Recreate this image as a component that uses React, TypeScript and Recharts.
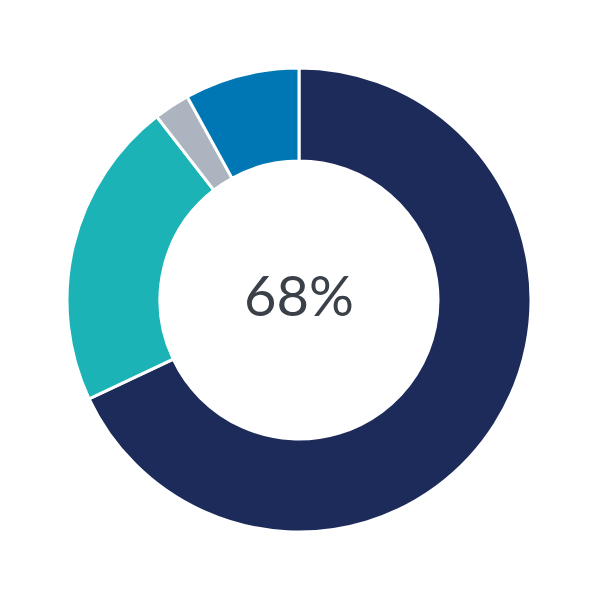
import { PieChart, Pie, Cell } from 'recharts';

const segments = ['Navy', 'Teal', 'Gray', 'Blue'];
const shares = [68, 21.5, 2.5, 8];
const colors = ['#1c2b5a', '#1cb3b6', '#abb4bf', '#0077b5'];
const centerLabel = '68%';

const data = segments.map((name, i) => ({ name, value: shares[i] }));

/* donut with the headline share written in the hole
   (pie cx/cy are measured from the 5px chart margin) */
const App = () => {
  return (
    <div style={{ position: 'absolute', left: 0, top: 0, width: 600, height: 600, background: '#fff' }}>
      <PieChart width={600} height={600}>
        <Pie
          data={data}
          dataKey="value"
          nameKey="name"
          cx={294}
          cy={295}
          innerRadius={139}
          outerRadius={232}
          startAngle={90}
          endAngle={-270}
          stroke="#fff"
          strokeWidth={3}
          isAnimationActive={false}
        >
          {data.map((d, i) => (
            <Cell key={d.name} fill={colors[i]} />
          ))}
        </Pie>
        <text
          x={299}
          y={294}
          textAnchor="middle"
          dominantBaseline="central"
          fontFamily="Lato, 'Open Sans', sans-serif"
          fontWeight={400}
          fontSize={56}
          fill="#3a4149"
        >
          {centerLabel}
        </text>
      </PieChart>
    </div>
  );
};

export default App;
